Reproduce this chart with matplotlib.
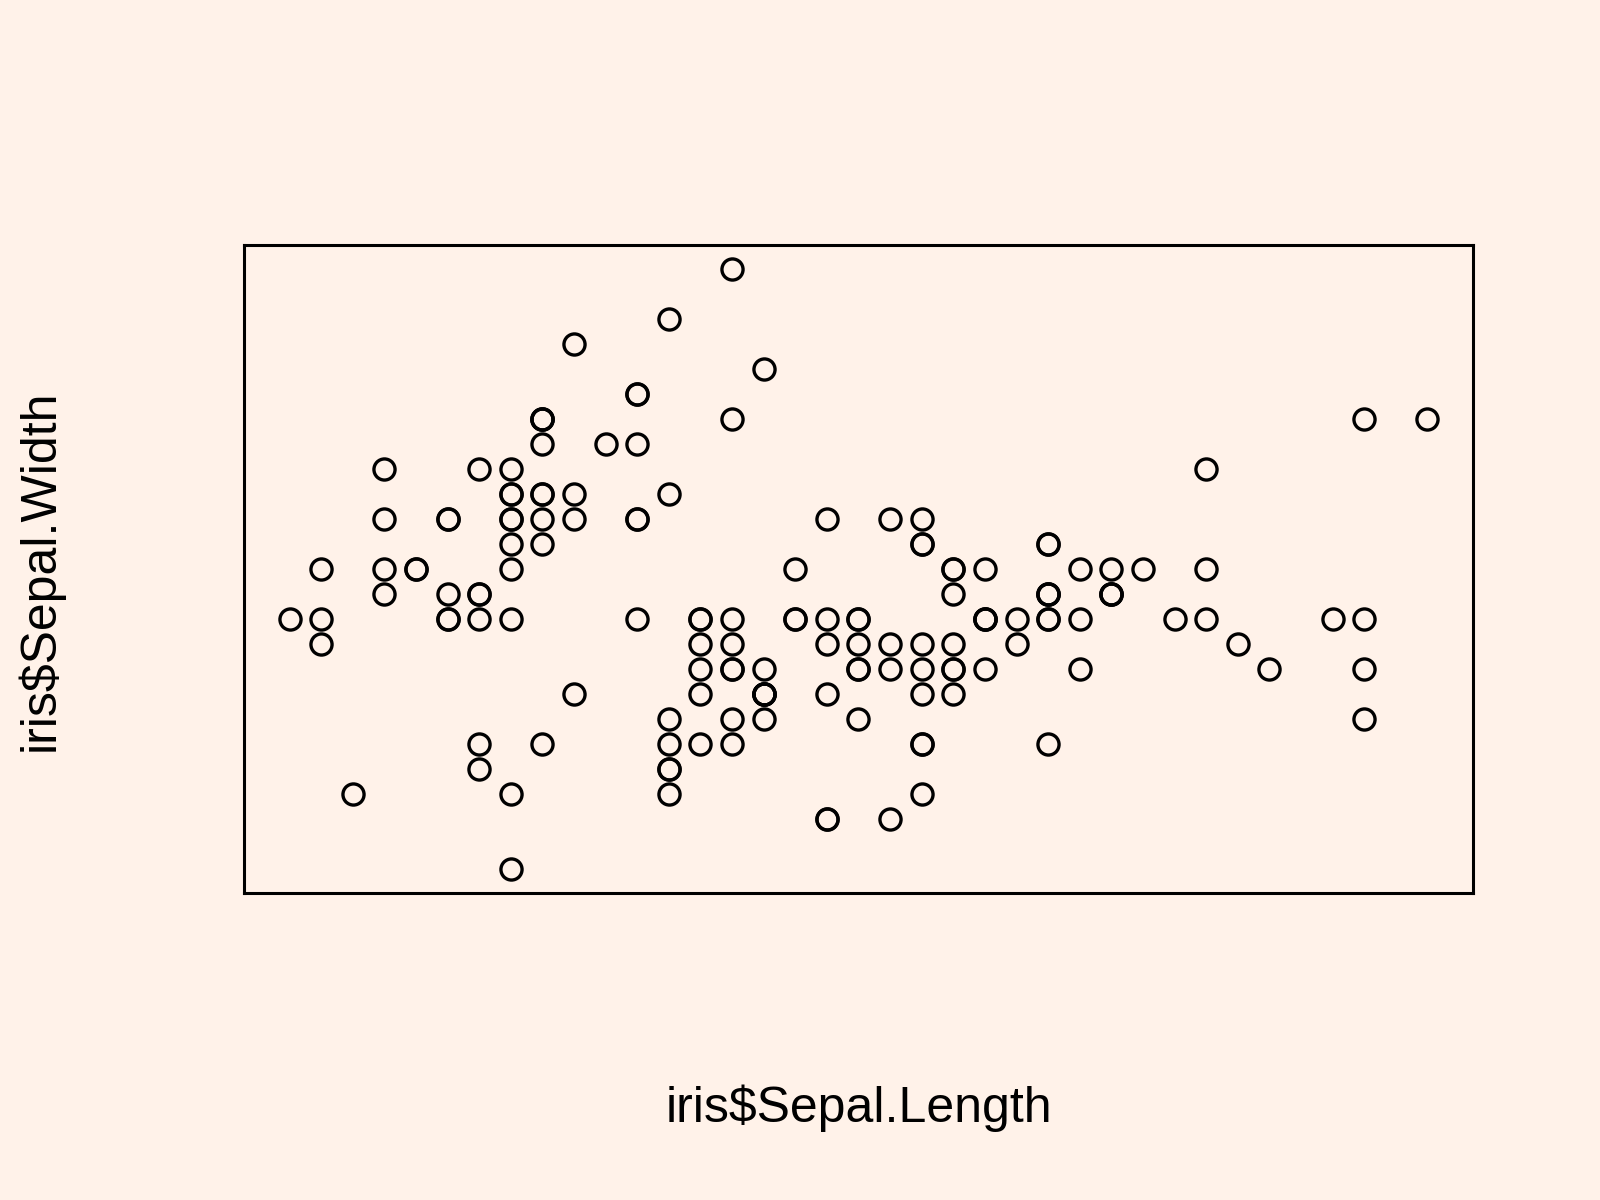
import matplotlib
matplotlib.use('Agg')
import matplotlib.pyplot as plt

# iris data, sepal length and width (setosa, versicolor, virginica)
sepal_length = [
    5.1, 4.9, 4.7, 4.6, 5.0, 5.4, 4.6, 5.0, 4.4, 4.9,
    5.4, 4.8, 4.8, 4.3, 5.8, 5.7, 5.4, 5.1, 5.7, 5.1,
    5.4, 5.1, 4.6, 5.1, 4.8, 5.0, 5.0, 5.2, 5.2, 4.7,
    4.8, 5.4, 5.2, 5.5, 4.9, 5.0, 5.5, 4.9, 4.4, 5.1,
    5.0, 4.5, 4.4, 5.0, 5.1, 4.8, 5.1, 4.6, 5.3, 5.0,
    7.0, 6.4, 6.9, 5.5, 6.5, 5.7, 6.3, 4.9, 6.6, 5.2,
    5.0, 5.9, 6.0, 6.1, 5.6, 6.7, 5.6, 5.8, 6.2, 5.6,
    5.9, 6.1, 6.3, 6.1, 6.4, 6.6, 6.8, 6.7, 6.0, 5.7,
    5.5, 5.5, 5.8, 6.0, 5.4, 6.0, 6.7, 6.3, 5.6, 5.5,
    5.5, 6.1, 5.8, 5.0, 5.6, 5.7, 5.7, 6.2, 5.1, 5.7,
    6.3, 5.8, 7.1, 6.3, 6.5, 7.6, 4.9, 7.3, 6.7, 7.2,
    6.5, 6.4, 6.8, 5.7, 5.8, 6.4, 6.5, 7.7, 7.7, 6.0,
    6.9, 5.6, 7.7, 6.3, 6.7, 7.2, 6.2, 6.1, 6.4, 7.2,
    7.4, 7.9, 6.4, 6.3, 6.1, 7.7, 6.3, 6.4, 6.0, 6.9,
    6.7, 6.9, 5.8, 6.8, 6.7, 6.7, 6.3, 6.5, 6.2, 5.9,
]
sepal_width = [
    3.5, 3.0, 3.2, 3.1, 3.6, 3.9, 3.4, 3.4, 2.9, 3.1,
    3.7, 3.4, 3.0, 3.0, 4.0, 4.4, 3.9, 3.5, 3.8, 3.8,
    3.4, 3.7, 3.6, 3.3, 3.4, 3.0, 3.4, 3.5, 3.4, 3.2,
    3.1, 3.4, 4.1, 4.2, 3.1, 3.2, 3.5, 3.6, 3.0, 3.4,
    3.5, 2.3, 3.2, 3.5, 3.8, 3.0, 3.8, 3.2, 3.7, 3.3,
    3.2, 3.2, 3.1, 2.3, 2.8, 2.8, 3.3, 2.4, 2.9, 2.7,
    2.0, 3.0, 2.2, 2.9, 2.9, 3.1, 3.0, 2.7, 2.2, 2.5,
    3.2, 2.8, 2.5, 2.8, 2.9, 3.0, 2.8, 3.0, 2.9, 2.6,
    2.4, 2.4, 2.7, 2.7, 3.0, 3.4, 3.1, 2.3, 3.0, 2.5,
    2.6, 3.0, 2.6, 2.3, 2.7, 3.0, 2.9, 2.9, 2.5, 2.8,
    3.3, 2.7, 3.0, 2.9, 3.0, 3.0, 2.5, 2.9, 2.5, 3.6,
    3.2, 2.7, 3.0, 2.5, 2.8, 3.2, 3.0, 3.8, 2.6, 2.2,
    3.2, 2.8, 2.8, 2.7, 3.3, 3.2, 2.8, 3.0, 2.8, 3.0,
    2.8, 3.8, 2.8, 2.8, 2.6, 3.0, 3.4, 3.1, 3.0, 3.1,
    3.1, 3.1, 2.7, 3.2, 3.3, 3.0, 2.5, 3.0, 3.4, 3.0,
]

bg = '#FFF2E9'
plt.rcParams['font.family'] = ['Liberation Sans', 'DejaVu Sans']

fig = plt.figure(figsize=(16, 12), dpi=100, facecolor=bg)
ax = fig.add_axes([244 / 1600, 1 - 893 / 1200, (1473 - 244) / 1600, (893 - 245) / 1200])
ax.set_facecolor(bg)

ax.plot(sepal_length, sepal_width, 'o', linestyle='none', markersize=15.2,
        markerfacecolor='none', markeredgecolor='black', markeredgewidth=2.4)

# R style axis range: data range extended by 4% on each side
xmin, xmax = min(sepal_length), max(sepal_length)
ymin, ymax = min(sepal_width), max(sepal_width)
dx = (xmax - xmin) * 0.04
dy = (ymax - ymin) * 0.04
ax.set_xlim(xmin - dx, xmax + dx)
ax.set_ylim(ymin - dy, ymax + dy)

ax.set_xticks([])
ax.set_yticks([])
for s in ax.spines.values():
    s.set_linewidth(2.2)
    s.set_color('black')

fig.text((244 + 1473) / 2 / 1600, 1 - 1122 / 1200, 'iris$Sepal.Length',
         fontsize=36, ha='center', va='baseline')
fig.text(54 / 1600, 1 - 570 / 1200, 'iris$Sepal.Width', fontsize=36,
         rotation=90, rotation_mode='anchor', ha='center', va='baseline')

fig.savefig('out.png', dpi=100, facecolor=bg)
